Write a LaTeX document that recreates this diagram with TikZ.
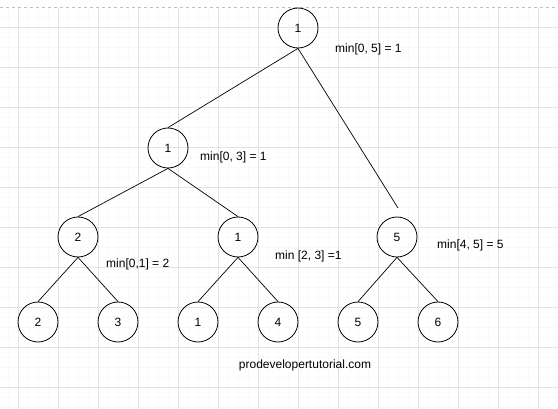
\documentclass[tikz,border=0pt]{standalone}
\usepackage{fontspec}
\setmainfont{Liberation Sans}
\begin{document}
\begin{tikzpicture}[x=1pt,y=-1pt,
  treenode/.style={circle,draw=black,line width=0.8pt,minimum size=40pt,inner sep=0pt,font=\fontsize{12}{14}\selectfont},
  lbl/.style={font=\fontsize{12}{14}\selectfont,inner sep=0pt},
  edge/.style={draw=black,line width=0.7pt}]
\useasboundingbox (0,0) rectangle (558,409);
\fill[white] (0,0) rectangle (558,409);
% minor grid
\foreach \x in {8,18,...,558} \draw[color=black!2.5,line width=0.5pt] (\x,7) -- (\x,409);
\foreach \y in {17,27,...,409} \draw[color=black!2.5,line width=0.5pt] (0,\y) -- (558,\y);
% major grid
\foreach \x in {18,58,...,558} \draw[color=black!11,line width=0.8pt] (\x,7) -- (\x,409);
\foreach \y in {27,67,...,409} \draw[color=black!11,line width=0.8pt] (0,\y) -- (558,\y);
\draw[color=black!25,dashed,line width=0.7pt] (0,7) -- (558,7);
% nodes
\node[treenode] (r) at (298,28) {1};
\node[treenode] (a) at (168,148) {1};
\node[treenode] (b) at (78,237) {2};
\node[treenode] (c) at (238,237) {1};
\node[treenode] (d) at (397,237) {5};
\node[treenode] (l1) at (38,322) {2};
\node[treenode] (l2) at (118,322) {3};
\node[treenode] (l3) at (198,322) {1};
\node[treenode] (l4) at (278,322) {4};
\node[treenode] (l5) at (358,322) {5};
\node[treenode] (l6) at (438,322) {6};
% edges
\coordinate (dtop) at (398,208);
\draw[edge] (r.south) -- (a.north);
\draw[edge] (r.south) -- (dtop);
\draw[edge] (a.south) -- (b.north);
\draw[edge] (a.south) -- (c.north);
\draw[edge] (b.south) -- (l1.north);
\draw[edge] (b.south) -- (l2.north);
\draw[edge] (c.south) -- (l3.north);
\draw[edge] (c.south) -- (l4.north);
\draw[edge] (d.south) -- (l5.north);
\draw[edge] (d.south) -- (l6.north);
% labels
\node[lbl,anchor=west] (t1) at (335,49) {min[0, 5] = 1};
\node[lbl,anchor=west] (t2) at (200,157) {min[0, 3] = 1};
\node[lbl,anchor=west] (t3) at (106,264) {min[0,1] = 2};
\node[lbl,anchor=west] (t4) at (275,256) {min [2, 3] =1};
\node[lbl,anchor=west] (t5) at (437,245) {min[4, 5] = 5};
\node[lbl] (t6) at (305,365) {prodevelopertutorial.com};
\end{tikzpicture}
\end{document}
